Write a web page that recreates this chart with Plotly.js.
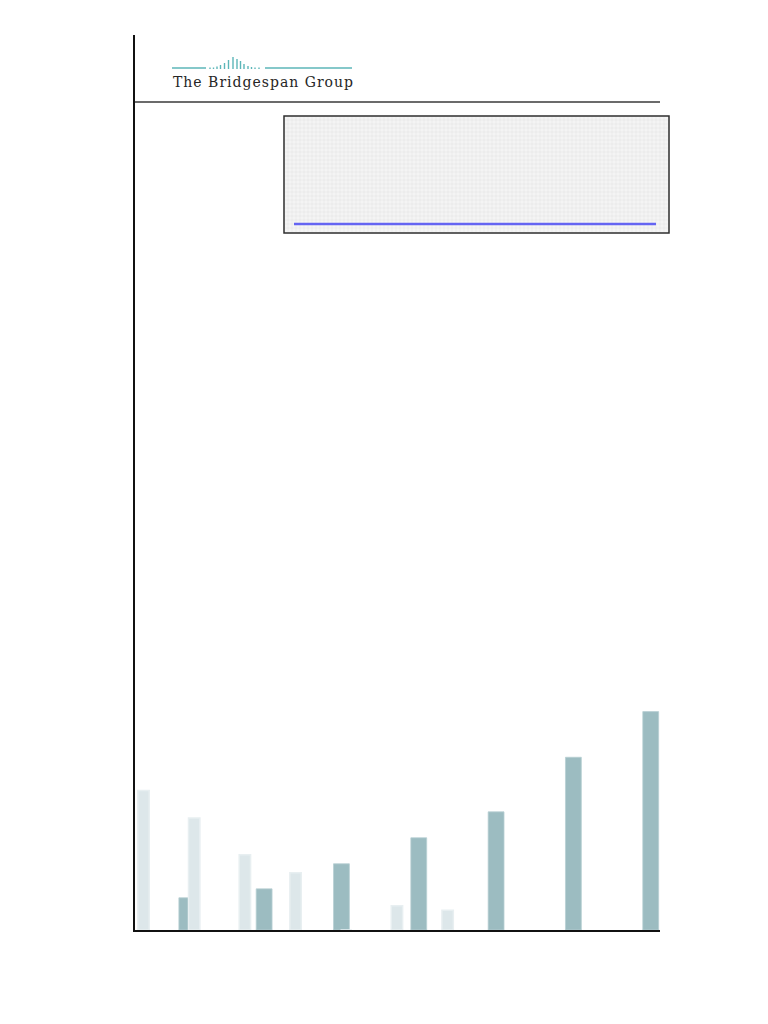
<!DOCTYPE html>
<html>
<head>
<meta charset="utf-8">
<script src="https://cdn.plot.ly/plotly-3.0.1.min.js"></script>
<style>
  html, body { margin: 0; padding: 0; background: #fff; }
  #chart { width: 768px; height: 1024px; }
  .annotation-text { letter-spacing: 1px; }
</style>
</head>
<body>
<div id="chart"></div>
<script>
// ---- data (arbitrary units, 0-100 scale) ----
const solidCategories = ["1", "2", "3", "4", "5", "6", "7"];
const solidValues = [3.6, 4.6, 7.4, 10.3, 13.2, 19.3, 24.4];
const fadedCategories = ["a", "b", "c", "d", "e", "f", "g"];
const fadedValues = [15.6, 12.5, 8.4, 6.4, 0, 2.7, 2.2];
const logoText = "The Bridgespan Group";

// ---- layout helpers (page pixels -> paper coordinates) ----
const W = 768, H = 1024;
const M = { l: 135, r: 108, t: 35, b: 94 };
const PW = W - M.l - M.r, PH = H - M.t - M.b;
const px = x => (x - M.l) / PW;
const py = y => (H - M.b - y) / PH;

const shapes = [];
// header rule
shapes.push({ type: 'line', xref: 'paper', yref: 'paper', x0: 0, x1: 1, y0: py(102), y1: py(102),
  line: { color: '#3a3a3a', width: 1.5 } });
// grey box
shapes.push({ type: 'rect', xref: 'paper', yref: 'paper', x0: px(284), x1: px(669), y0: py(233), y1: py(116),
  fillcolor: '#f4f4f4', line: { color: '#2e2e2e', width: 1.5 }, layer: 'below' });
for (let x = 288; x < 668; x += 4) {
  shapes.push({ type: 'line', xref: 'paper', yref: 'paper', x0: px(x), x1: px(x), y0: py(232), y1: py(117),
    line: { color: 'rgba(0,0,0,0.035)', width: 1 }, layer: 'below' });
}
for (let y = 120; y < 232; y += 4) {
  shapes.push({ type: 'line', xref: 'paper', yref: 'paper', x0: px(285), x1: px(668), y0: py(y), y1: py(y),
    line: { color: 'rgba(0,0,0,0.035)', width: 1 }, layer: 'below' });
}
// blue rule in the box
shapes.push({ type: 'line', xref: 'paper', yref: 'paper', x0: px(294), x1: px(656), y0: py(224), y1: py(224),
  line: { color: '#6464f2', width: 2.5 } });
// logo lines
shapes.push({ type: 'line', xref: 'paper', yref: 'paper', x0: px(172), x1: px(206), y0: py(68), y1: py(68),
  line: { color: '#5cb6b8', width: 1.6 } });
shapes.push({ type: 'line', xref: 'paper', yref: 'paper', x0: px(265), x1: px(352), y0: py(68), y1: py(68),
  line: { color: '#5cb6b8', width: 1.6 } });
const tickX = [210, 213.5, 217, 220.5, 224.5, 228.5, 233, 237, 240.5, 244, 248, 251.5, 255, 259];
const tickH = [1.5, 1.5, 2.5, 4, 6, 9, 12, 10, 8, 5, 3, 2, 1.5, 1.5];
tickX.forEach((x, i) => {
  shapes.push({ type: 'line', xref: 'paper', yref: 'paper', x0: px(x), x1: px(x), y0: py(69), y1: py(69 - tickH[i]),
    line: { color: '#5cb6b8', width: 1.4 } });
});

const data = [
  { type: 'bar', x: fadedCategories, y: fadedValues, xaxis: 'x2', yaxis: 'y',
    width: 0.225, marker: { color: '#dde7ea', line: { color: '#e8eff1', width: 1.5 } },
    hoverinfo: 'skip', showlegend: false },
  { type: 'bar', x: solidCategories, y: solidValues, xaxis: 'x', yaxis: 'y',
    width: 0.205, marker: { color: '#9cbcc1', line: { color: '#b7cfd3', width: 0.8 } },
    hoverinfo: 'skip', showlegend: false }
];

const layout = {
  width: W, height: H,
  margin: M,
  paper_bgcolor: '#ffffff', plot_bgcolor: 'rgba(0,0,0,0)',
  showlegend: false,
  barmode: 'overlay',
  xaxis: { type: 'category', range: [-0.67, 6.12], showticklabels: false, ticks: '',
    showgrid: false, zeroline: false, showline: true, linecolor: '#111', linewidth: 2, fixedrange: true },
  xaxis2: { type: 'category', overlaying: 'x', range: [-0.168, 10.19], showticklabels: false, ticks: '',
    showgrid: false, zeroline: false, showline: false, fixedrange: true },
  yaxis: { range: [0, 100], showticklabels: false, ticks: '', showgrid: false, zeroline: false,
    showline: true, linecolor: '#111', linewidth: 2, fixedrange: true },
  shapes: shapes,
  annotations: [
    { xref: 'paper', yref: 'paper', x: px(171), y: py(82), xanchor: 'left', yanchor: 'middle',
      text: logoText, showarrow: false,
      font: { family: 'DejaVu Serif, Liberation Serif, serif', size: 14, color: '#262626' } }
  ]
};

Plotly.newPlot('chart', data, layout, { staticPlot: true, displayModeBar: false });
</script>
</body>
</html>
